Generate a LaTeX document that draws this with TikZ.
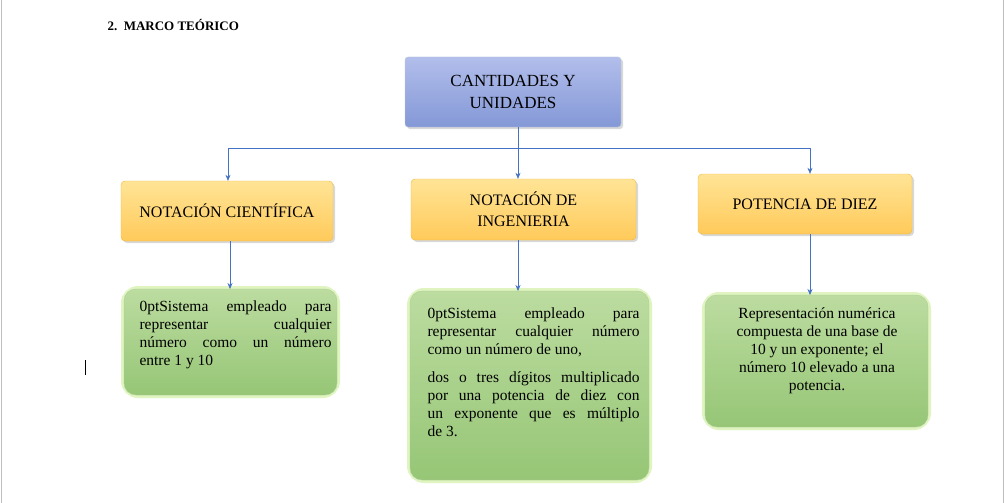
\documentclass[tikz,border=0pt]{standalone}
\usepackage{fontspec}
\setmainfont{Liberation Serif}
\usetikzlibrary{arrows.meta,shadows}
\definecolor{bluetop}{RGB}{178,190,235}
\definecolor{bluebot}{RGB}{132,152,215}
\definecolor{orangetop}{RGB}{255,228,150}
\definecolor{orangebot}{RGB}{255,202,90}
\definecolor{orangeline}{RGB}{240,185,60}
\definecolor{greentop}{RGB}{188,220,160}
\definecolor{greenbot}{RGB}{150,198,118}
\definecolor{greenline}{RGB}{120,170,90}
\definecolor{glow}{RGB}{215,242,175}
\definecolor{arrowc}{RGB}{68,114,196}
\tikzset{
 topbox/.style={draw=bluebot!80!black!40, rounded corners=3pt, top color=bluetop, bottom color=bluebot, drop shadow={opacity=0.3,shadow xshift=2pt,shadow yshift=-2pt}, align=center, font=\fontsize{17}{22}\selectfont},
 obox/.style={draw=orangeline, rounded corners=4pt, top color=orangetop, bottom color=orangebot, drop shadow={opacity=0.3,shadow xshift=2pt,shadow yshift=-2pt}, align=center, font=\fontsize{16}{21}\selectfont},
 gbox/.style={draw=greenline!60, rounded corners=12pt, top color=greentop, bottom color=greenbot},
 halo/.style={draw=glow, line width=6pt, rounded corners=14pt, opacity=0.8},
 conn/.style={draw=arrowc, line width=0.6pt, -{Stealth[length=6pt,width=5pt]}},
 line/.style={draw=arrowc, line width=0.6pt},
 gtext/.style={font=\fontsize{15.5}{18}\selectfont\hyphenpenalty=10000, align=justify, anchor=north west}
}
\begin{document}
\begin{tikzpicture}[x=1pt,y=-1pt]
\useasboundingbox (0,0) rectangle (1005,503);
\fill[white] (0,0) rectangle (1005,503);
\draw[gray!50] (1,0) -- (1,503);
\draw[gray!50] (1003,0) -- (1003,503);
\draw[black] (85,360) -- (85,375);
\node[anchor=west, font=\bfseries\fontsize{13}{15}\selectfont] (title) at (104,25) {2.\ \ MARCO TEÓRICO};

\node[topbox, minimum width=216pt, minimum height=70pt] (top) at (513,92) {CANTIDADES Y\\UNIDADES};

\node[obox, minimum width=212pt, minimum height=60pt] (o1) at (227,211) {NOTACIÓN CIENTÍFICA};
\node[obox, minimum width=225pt, minimum height=61pt] (o2) at (523.5,209.5) {NOTACIÓN DE\\INGENIERIA};
\node[obox, minimum width=214pt, minimum height=60pt] (o3) at (805,204) {POTENCIA DE DIEZ};

\draw[halo] (124,289) rectangle (337,395);
\draw[halo] (410,291) rectangle (649,480);
\draw[halo] (705,295) rectangle (928,427);
\path[gbox] (124,289) rectangle (337,395);
\path[gbox] (410,291) rectangle (649,480);
\path[gbox] (705,295) rectangle (928,427);
\coordinate (g1) at (230,289);
\coordinate (g2) at (518,291);
\coordinate (g3) at (810,295);

\node[gtext, text width=192pt] (t1) at (136,297) {Sistema empleado para\linebreak representar cualquier\linebreak número como un número\linebreak entre 1 y 10};
\node[gtext, text width=212pt] (t2) at (424,304) {Sistema empleado para\linebreak representar cualquier número\linebreak como un número de uno,\par\vspace{10pt}dos o tres dígitos multiplicado\linebreak por una potencia de diez con\linebreak un exponente que es múltiplo\linebreak de 3.};
\node[font=\fontsize{15.5}{18}\selectfont, align=center] (t3) at (817,351) {Representación numérica\\compuesta de una base de\\10 y un exponente; el\\número 10 elevado a una\\potencia.};

\coordinate (j) at (518,148);
\coordinate (jl) at (228,148);
\coordinate (jr) at (810,148);
\draw[line] (top.south -| j) -- (j);
\draw[line] (jl) -- (jr);
\draw[conn] (jl) -- (jl |- o1.north);
\draw[conn] (j) -- (j |- o2.north);
\draw[conn] (jr) -- (jr |- o3.north);
\draw[conn] (o1.south -| g1) -- (g1);
\draw[conn] (o2.south -| g2) -- (g2);
\draw[conn] (o3.south -| g3) -- (g3);
\end{tikzpicture}
\end{document}
